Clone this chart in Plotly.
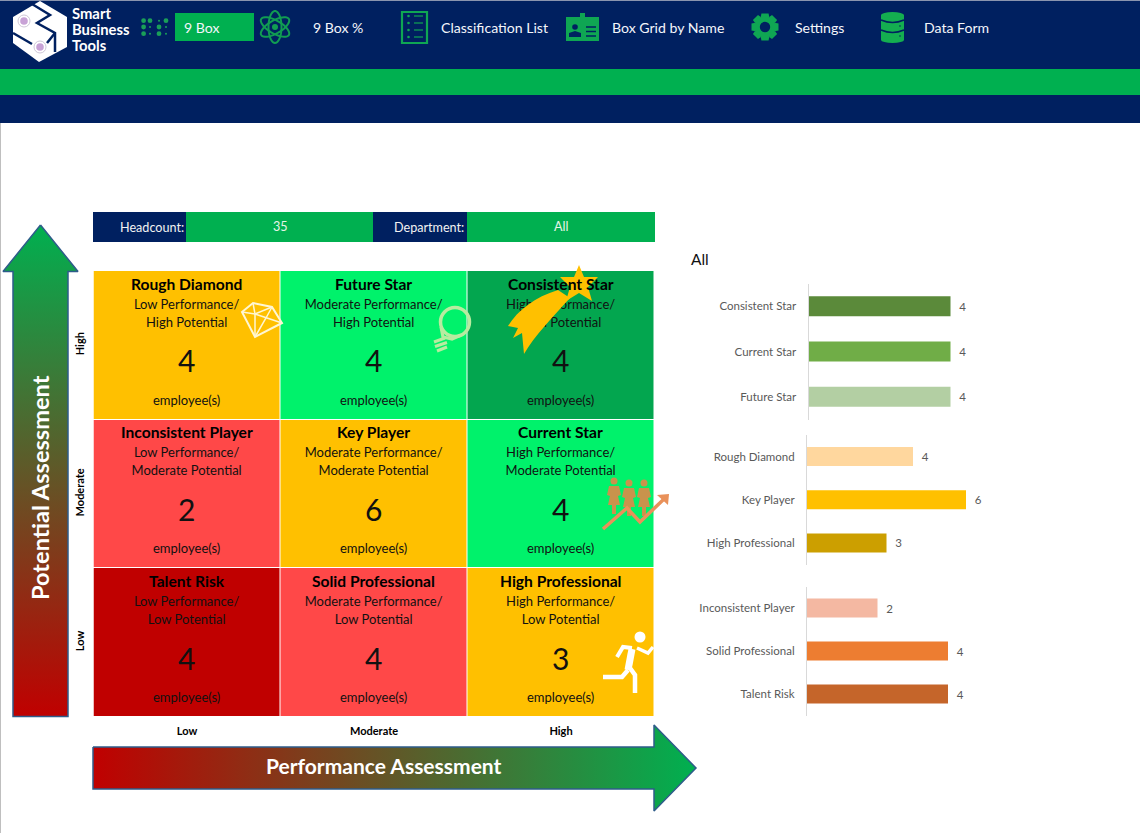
import numpy as np
import plotly.graph_objects as go

W, H = 1140, 833
NAVY = "#002060"
GREEN = "#00B050"
FONT = "Lato"

# nine box data, rows run low -> high potential
perf_levels = ["Low", "Moderate", "High"]
pot_levels = ["Low", "Moderate", "High"]
box_names = [
    ["Talent Risk", "Solid Professional", "High Professional"],
    ["Inconsistent Player", "Key Player", "Current Star"],
    ["Rough Diamond", "Future Star", "Consistent Star"],
]
box_counts = [
    [4, 4, 3],
    [2, 6, 4],
    [4, 4, 4],
]
zone_scores = [
    [0, 1, 2],
    [1, 2, 3],
    [2, 3, 4],
]
zone_colors = ["#C00000", "#FF4848", "#FFC000", "#00F26B", "#03A64F"]

# bar groups
star_names = ["Consistent Star", "Current Star", "Future Star"]
star_counts = [4, 4, 4]
mid_names = ["Rough Diamond", "Key Player", "High Professional"]
mid_counts = [4, 6, 3]
risk_names = ["Inconsistent Player", "Solid Professional", "Talent Risk"]
risk_counts = [2, 4, 4]

headcount = 35
department = "All"
nav_labels = ["9 Box", "9 Box %", "Classification List", "Box Grid by Name", "Settings", "Data Form"]


def x_dom(a, b):
    return [a / W, b / W]


def y_dom(top, bottom):
    return [1 - bottom / H, 1 - top / H]


def page_shape(**kw):
    return dict(xref="x5", yref="y5", **kw)


def rect(x0, y0, x1, y1, color, layer="below"):
    return page_shape(type="rect", x0=x0, y0=y0, x1=x1, y1=y1, fillcolor=color, line_width=0, layer=layer)


def circle(cx, cy, r, fill=None, line=None, width=1.5):
    return page_shape(type="circle", x0=cx - r, y0=cy - r, x1=cx + r, y1=cy + r,
                      fillcolor=fill or "rgba(0,0,0,0)", line=dict(color=line or "rgba(0,0,0,0)", width=width if line else 0),
                      layer="above")


def poly(points, fill=None, line=None, width=1.5, closed=True):
    path = "M" + " L".join(f"{x:.1f},{y:.1f}" for x, y in points) + (" Z" if closed else "")
    return page_shape(type="path", path=path, fillcolor=fill or "rgba(0,0,0,0)",
                      line=dict(color=line or "rgba(0,0,0,0)", width=width if line else 0), layer="above")


def ellipse_pts(cx, cy, a, b, deg):
    t = np.linspace(0, 2 * np.pi, 40)
    r = np.radians(deg)
    xs = cx + a * np.cos(t) * np.cos(r) - b * np.sin(t) * np.sin(r)
    ys = cy + a * np.cos(t) * np.sin(r) + b * np.sin(t) * np.cos(r)
    return list(zip(xs, ys))


fig = go.Figure()

# grid
row_h = 148.5
fig.add_trace(go.Heatmap(
    z=zone_scores, x=[0, 1, 2], y=[0, 1, 2], xaxis="x", yaxis="y",
    zmin=0, zmax=4, showscale=False, xgap=1, ygap=1, hoverinfo="skip",
    colorscale=[[0, zone_colors[0]], [0.125, zone_colors[0]], [0.125, zone_colors[1]], [0.375, zone_colors[1]],
                [0.375, zone_colors[2]], [0.625, zone_colors[2]], [0.625, zone_colors[3]], [0.875, zone_colors[3]],
                [0.875, zone_colors[4]], [1, zone_colors[4]]],
))

cols, rows, subs1, subs2, counts = [], [], [], [], []
for r, pot in enumerate(pot_levels):
    for c, perf in enumerate(perf_levels):
        cols.append(c)
        rows.append(r)
        subs1.append(perf + " Performance/")
        subs2.append(pot + " Potential")
        counts.append(str(box_counts[r][c]))
rows = np.array(rows, dtype=float)
cols = np.array(cols, dtype=float) - 0.002

cell_font = dict(family=FONT, color="#111111", size=13)
for offset, texts, font in [
    (40, subs1, cell_font),
    (22, subs2, cell_font),
    (-19.5, counts, dict(family=FONT, color="#111111", size=30)),
    (-56, ["employee(s)"] * 9, cell_font),
]:
    fig.add_trace(go.Scatter(x=cols, y=rows + offset / row_h, text=texts, mode="text", xaxis="x", yaxis="y",
                             textposition="middle center", textfont=font, hoverinfo="skip", showlegend=False))

annotations = []
for r in range(3):
    for c in range(3):
        annotations.append(dict(x=c - 0.002, y=r + 61.5 / row_h, xref="x", yref="y", text="<b>" + box_names[r][c] + "</b>",
                                showarrow=False, font=dict(family=FONT, color="#000000", size=15.6)))

# bar charts
for i, (names, values, colors) in enumerate([
    (star_names, star_counts, ["#5B8A3A", "#70AD47", "#B3CFA3"]),
    (mid_names, mid_counts, ["#FFD79E", "#FFC000", "#CC9F00"]),
    (risk_names, risk_counts, ["#F4B8A2", "#ED7D31", "#C5652A"]),
]):
    fig.add_trace(go.Bar(
        x=values, y=names, orientation="h", xaxis=f"x{i + 2}", yaxis=f"y{i + 2}", marker=dict(color=colors, line_width=0),
        texttemplate="\u2002%{x}", textposition="outside", cliponaxis=False, width=0.44, hoverinfo="skip", showlegend=False,
        textfont=dict(family=FONT, color="#595959", size=11.5),
    ))

# arrows on the page layer
fig.add_trace(go.Scatter(
    x=[40.5, 78, 68, 68, 13, 13, 3, 40.5], y=[225, 271.5, 271.5, 716.5, 716.5, 271.5, 271.5, 225],
    xaxis="x5", yaxis="y5", mode="lines", fill="toself", line=dict(color="#2E5C8A", width=1.5),
    fillgradient=dict(type="vertical", colorscale=[[0, "#C00000"], [1, GREEN]]),
    hoverinfo="skip", showlegend=False,
))
fig.add_trace(go.Scatter(
    x=[93, 654, 654, 696, 654, 654, 93, 93], y=[747, 747, 725, 768, 811, 789, 789, 747],
    xaxis="x5", yaxis="y5", mode="lines", fill="toself", line=dict(color="#2E5C8A", width=1.5),
    fillgradient=dict(type="horizontal", colorscale=[[0, "#C00000"], [1, GREEN]]),
    hoverinfo="skip", showlegend=False,
))


def page_text(x, y, text, size=14, color="#FFFFFF", anchor="center", angle=0, bold=False):
    annotations.append(dict(x=x, y=y, xref="x5", yref="y5", text=f"<b>{text}</b>" if bold else text,
                            showarrow=False, xanchor=anchor, textangle=angle,
                            font=dict(family=FONT, color=color, size=size)))


page_text(40, 488, "Potential Assessment", size=23.6, angle=-90, bold=True)
page_text(384, 765, "Performance Assessment", size=21, bold=True)
page_text(689, 259, department, size=15.5, color="#111111", anchor="left")

# header bars
shapes = [
    rect(0, 0, W, 69, NAVY), rect(0, 69, W, 95, GREEN), rect(0, 95, W, 123, NAVY),
    rect(0, 123, 1, H, "#BFBFBF"), rect(0, 0, W, 1, "#8A94AE"),
    rect(175, 13, 254, 41, GREEN),
    rect(93, 212, 186, 242, NAVY), rect(186, 212, 373, 242, GREEN),
    rect(373, 212, 467, 242, NAVY), rect(467, 212, 655, 242, GREEN),
]
page_text(186, 227, "Headcount:", size=12.6, color="#F2F2F2", anchor="right")
page_text(280, 226, str(headcount), size=12.6, color="#E8F5E8")
page_text(466, 227, "Department:", size=12.6, color="#F2F2F2", anchor="right")
page_text(560.5, 226, department, size=12.6, color="#E8F5E8")

# navigation text
for x, label in zip([182, 311, 439, 610, 793, 922], nav_labels):
    page_text(x, 27, label, size=14.1, color="#F4F6FB", anchor="left")
for y, label in zip([13, 29, 45], ["Smart", "Business", "Tools"]):
    page_text(70, y, label, size=14.8, anchor="left", bold=True)

# logo
shapes.append(poly([(40, 1), (67, 17), (67, 47), (39, 62), (13, 43), (13, 17)], fill="#FFFFFF"))
shapes.append(poly([(32, 4), (50, 15), (37, 23), (55, 33), (55, 52)], line=NAVY, width=2.5, closed=False))
shapes.append(poly([(13, 33), (32, 44)], line=NAVY, width=2.5, closed=False))
shapes.append(poly([(47, 43), (55, 33)], line=NAVY, width=2.5, closed=False))
shapes.append(circle(24, 21, 6, fill="#FFFFFF", line="#CFC8D8", width=1))
shapes.append(circle(24, 21, 3.8, fill="#C8A2D6"))
shapes.append(circle(40, 47, 6, fill="#FFFFFF", line="#CFC8D8", width=1))
shapes.append(circle(40, 47, 3.8, fill="#C8A2D6"))

# navigation icons
for x, y, r in [(143.6, 20.7, 2.4), (150, 20.7, 2.4), (159, 20.7, 1), (166, 20.7, 2.4),
                (143.6, 27, 2.4), (150, 27, 1), (159, 27, 2.4), (166, 27, 1),
                (143.6, 33.7, 2.4), (150, 33.7, 1), (159, 33.7, 2.4), (166, 33.7, 1)]:
    shapes.append(circle(x, y, r, fill="#1A9F58"))
for deg in [90, 30, -30]:
    shapes.append(poly(ellipse_pts(275, 27, 16, 6.5, deg), line="#119C52", width=2))
shapes.append(circle(275, 27, 3, fill="#119C52"))
shapes.append(page_shape(type="rect", x0=402, y0=12, x1=427, y1=43, line=dict(color="#0FA653", width=2.2),
                         fillcolor="rgba(0,0,0,0)", layer="above"))
for y in [16, 23, 30, 37]:
    shapes.append(circle(408.5, y, 1.3, fill="#0FA653"))
    shapes.append(poly([(414, y), (423, y)], line="#0FA653", width=1.2, closed=False))
shapes.append(rect(566, 17, 599, 41, "#0FA653", layer="above"))
shapes.append(rect(580, 13, 585, 20, "#0FA653", layer="above"))
shapes.append(circle(575, 27, 2.8, fill=NAVY))
shapes.append(poly([(569, 37), (569, 33), (575, 31), (581, 33), (581, 37)], fill=NAVY))
for y in [27, 31.5, 36]:
    shapes.append(poly([(586, y), (596, y)], line=NAVY, width=1.5, closed=False))
gear = []
for k in range(8):
    a = k * np.pi / 4 - np.pi / 2
    for da, rad in [(-0.26, 14), (0.26, 14), (0.42, 10.5), (np.pi / 4 - 0.42, 10.5)]:
        gear.append((765 + rad * np.cos(a + da), 27 + rad * np.sin(a + da)))
shapes.append(poly(gear, fill="#0FA653"))
shapes.append(circle(765, 27, 5.2, fill=NAVY))
DB = "#14AE50"
shapes.append(rect(881, 15, 904, 40, DB, layer="above"))
shapes.append(page_shape(type="circle", x0=881, y0=12, x1=904, y1=18, fillcolor=DB, line_width=0, layer="above"))
shapes.append(page_shape(type="circle", x0=881, y0=37, x1=904, y1=43, fillcolor=DB, line_width=0, layer="above"))
for y in [20, 30]:
    shapes.append(page_shape(type="path", path=f"M881,{y} Q892.5,{y + 5} 904,{y}", line=dict(color=NAVY, width=1.4),
                             fillcolor="rgba(0,0,0,0)", layer="above"))
    shapes.append(circle(900, y + 6, 0.8, fill=NAVY))

# cell icons
DIAMOND = "#FFF6D2"
shapes.append(poly([(242, 312), (253, 303), (272, 307), (282, 323), (255, 337)], line=DIAMOND, width=2))
shapes.append(poly([(242, 312), (255, 314), (272, 307)], line=DIAMOND, closed=False))
shapes.append(poly([(253, 303), (255, 314), (255, 337)], line=DIAMOND, closed=False))
shapes.append(poly([(255, 314), (282, 323)], line=DIAMOND, closed=False))
shapes.append(poly([(272, 307), (266, 318), (255, 337)], line=DIAMOND, closed=False))

BULB = "#B8EBA0"
shapes.append(circle(455, 322, 14.5, line=BULB, width=3.5))
shapes.append(poly([(441, 327), (443, 337), (452, 339), (461, 335)], line=BULB, width=3.2, closed=False))
for a, b in [((434, 342), (445, 338)), ((435, 346.5), (447, 342.5)), ((437, 351), (447, 347))]:
    shapes.append(poly([a, b], line=BULB, width=3, closed=False))

shapes.append(page_shape(type="path", fillcolor="#FFC000", line_width=0, layer="above",
                         path="M558,290 C535,297 518,310 508,326 L518,328 L513,338 L522,333 L524,354 "
                              "C535,335 552,318 570,298 Z"))
shapes.append(poly([(579, 265), (584, 277), (598, 277), (588, 287), (592, 301), (579, 293), (566, 301), (570, 287),
                    (560, 277), (574, 277)], fill="#FFC000"))

PEOPLE = "#C8934C"
for cx, cy in [(614, 481), (629, 483), (644, 483)]:
    shapes.append(circle(cx, cy, 3.5, fill=PEOPLE))
    shapes.append(poly([(cx - 5, cy + 5), (cx + 5, cy + 5), (cx + 7, cy + 14), (cx + 4, cy + 15), (cx + 6, cy + 24),
                        (cx + 2, cy + 24), (cx + 2, cy + 33), (cx - 2, cy + 33), (cx - 2, cy + 24), (cx - 6, cy + 24),
                        (cx - 4, cy + 15), (cx - 7, cy + 14)], fill=PEOPLE))
shapes.append(poly([(603, 529), (627, 508), (640, 522), (664, 499)], line="#E9915A", width=3.5, closed=False))
shapes.append(poly([(657, 495), (669, 494), (668, 505)], fill="#E9915A"))

RUN = "#FFFFFF"
shapes.append(circle(640, 637, 5.5, fill=RUN))
shapes.append(poly([(632, 649), (628, 670)], line=RUN, width=7, closed=False))
shapes.append(poly([(628, 670), (622, 677), (603, 677)], line=RUN, width=4.5, closed=False))
shapes.append(poly([(630, 668), (635, 675), (635, 693)], line=RUN, width=4.5, closed=False))
shapes.append(poly([(632, 648), (623, 647), (617, 657)], line=RUN, width=4, closed=False))
shapes.append(poly([(637, 648), (648, 653), (653, 647)], line=RUN, width=3.5, closed=False))

tick_font = dict(family=FONT, color="#000000", size=11, weight="bold")
bar_axis = dict(showgrid=False, zeroline=False, showticklabels=False, ticks="", showline=False, fixedrange=True)
cat_axis = dict(showgrid=False, zeroline=False, autorange="reversed", showline=True, linecolor="#D9D9D9", linewidth=1,
                ticks="", ticklabelstandoff=9, tickfont=dict(family=FONT, color="#595959", size=11.5), fixedrange=True)
hidden = dict(visible=False, fixedrange=True)

fig.update_layout(
    width=W, height=H, autosize=False, margin=dict(l=0, r=0, t=0, b=0),
    paper_bgcolor="#FFFFFF", plot_bgcolor="rgba(0,0,0,0)", showlegend=False,
    font=dict(family=FONT), annotations=annotations, shapes=shapes, bargap=0.56,
    xaxis=dict(domain=x_dom(93.5, 654.5), range=[-0.5, 2.5], tickvals=[0, 1, 2], ticktext=perf_levels, showgrid=False,
               zeroline=False, ticks="", ticklabelstandoff=6, tickfont=tick_font, fixedrange=True, anchor="y"),
    yaxis=dict(domain=y_dom(271, 717), range=[-0.5, 2.5], tickvals=[0, 1, 2], ticktext=pot_levels, showgrid=False,
               zeroline=False, ticks="", ticklabelstandoff=6, tickangle=-90, tickfont=tick_font, fixedrange=True, anchor="x"),
    xaxis2=dict(domain=x_dom(808.5, 808.5 + 35.5 * 5.6), range=[0, 5.6], anchor="y2", **bar_axis),
    yaxis2=dict(domain=y_dom(283.5, 419.5), anchor="x2", **cat_axis),
    xaxis3=dict(domain=x_dom(807, 807 + 26.5 * 7), range=[0, 7], anchor="y3", **bar_axis),
    yaxis3=dict(domain=y_dom(435, 564.5), anchor="x3", **cat_axis),
    xaxis4=dict(domain=x_dom(807, 807 + 35.25 * 5.5), range=[0, 5.5], anchor="y4", **bar_axis),
    yaxis4=dict(domain=y_dom(586.5, 715.5), anchor="x4", **cat_axis),
    xaxis5=dict(domain=[0, 1], range=[0, W], anchor="y5", **hidden),
    yaxis5=dict(domain=[0, 1], range=[H, 0], anchor="x5", **hidden),
)

fig.write_html("out.html", config={"displayModeBar": False},
               post_script="document.body.style.margin='0';document.body.style.overflow='hidden';")
